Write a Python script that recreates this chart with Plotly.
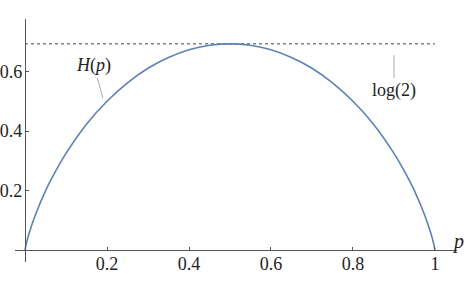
import plotly.graph_objects as go

# Values
p_vals = [0, 0.002, 0.005, 0.01, 0.025, 0.05, 0.075, 0.1, 0.15, 0.2, 0.25, 0.3, 0.35, 0.4, 0.45, 0.5,
          0.55, 0.6, 0.65, 0.7, 0.75, 0.8, 0.85, 0.9, 0.925, 0.95, 0.975, 0.99, 0.995, 0.998, 1]
h_vals = [0, 0.014, 0.031, 0.056, 0.117, 0.199, 0.266, 0.325, 0.423, 0.500, 0.562, 0.611, 0.647, 0.673, 0.688, 0.693,
          0.688, 0.673, 0.647, 0.611, 0.562, 0.500, 0.423, 0.325, 0.266, 0.199, 0.117, 0.056, 0.031, 0.014, 0]
log2_x = [0, 1]
log2_y = [0.693, 0.693]

x_ticks = [0.2, 0.4, 0.6, 0.8, 1]
x_ticktext = ["0.2", "0.4", "0.6", "0.8", "1"]
y_ticks = [0.2, 0.4, 0.6]
y_ticktext = ["0.2", "0.4", "0.6"]

FONT = "Liberation Serif"

fig = go.Figure()
fig.add_trace(go.Scatter(x=log2_x, y=log2_y, mode="lines",
                         line=dict(color="#444444", width=1, dash="3px,3px"),
                         hoverinfo="skip", showlegend=False))
fig.add_trace(go.Scatter(x=p_vals, y=h_vals, mode="lines",
                         line=dict(color="#5E81B5", width=1.6, shape="spline", smoothing=0.6),
                         showlegend=False))

W, H = 474, 292
ml, mr, mt, mb = 15, 17, 19, 30
pw, ph = W - ml - mr, H - mt - mb

fig.update_layout(
    width=W, height=H,
    margin=dict(l=ml, r=mr, t=mt, b=mb, pad=0, autoexpand=False),
    paper_bgcolor="white", plot_bgcolor="white",
    font=dict(family=FONT, size=18, color="#222222"),
    xaxis=dict(range=[-0.0244, 1.0537], showgrid=False, zeroline=False, automargin=False,
               showline=True, linecolor="#555555", linewidth=1.2,
               anchor="free", position=(262 - 250) / ph,
               tickmode="array", tickvals=x_ticks, ticktext=x_ticktext,
               ticks="inside", ticklen=3, tickcolor="#555555", ticklabelstandoff=-3,
               tickfont=dict(family=FONT, size=18, color="#222222")),
    yaxis=dict(range=[-0.0403, 0.7765], showgrid=False, zeroline=False, automargin=False,
               showline=True, linecolor="#555555", linewidth=1.2,
               anchor="free", position=(25 - 15) / pw,
               tickmode="array", tickvals=y_ticks, ticktext=y_ticktext,
               ticks="inside", ticklen=3, tickcolor="#555555", ticklabelstandoff=-1,
               tickfont=dict(family=FONT, size=18, color="#222222")),
    annotations=[
        dict(x=0.19, y=0.511, xref="x", yref="y", text="<i>H</i>(<i>p</i>)",
             showarrow=True, arrowhead=0, arrowwidth=1, arrowcolor="#aaaaaa",
             ax=-9, ay=-32, font=dict(family=FONT, size=18, color="#222222")),
        dict(x=0.9, y=0.655, xref="x", yref="y", text="log(2)",
             showarrow=True, arrowhead=0, arrowwidth=1, arrowcolor="#aaaaaa",
             ax=0, ay=35, font=dict(family=FONT, size=18, color="#222222")),
        dict(x=(466 - ml) / pw, y=(H - mb - 255) / ph, xref="paper", yref="paper",
             text="<i>p</i>", showarrow=False,
             font=dict(family=FONT, size=20, color="#222222")),
    ],
)

fig.write_html("out.html", config={"displayModeBar": False},
               post_script="document.body.style.margin='0';")
